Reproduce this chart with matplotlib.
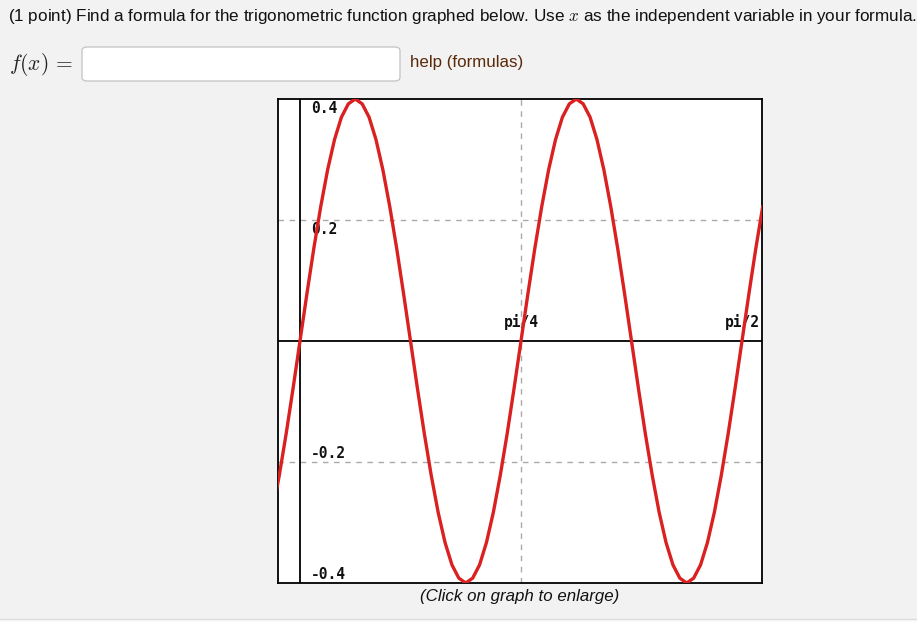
import numpy as np
import matplotlib.pyplot as plt
from matplotlib.patches import FancyBboxPatch, Rectangle

plt.rcParams['font.family'] = ['Liberation Sans', 'DejaVu Sans']
plt.rcParams['mathtext.fontset'] = 'cm'

# Curve samples, one every pi/128 along x
x_step = np.pi / 128
k_start = -4
y_vals = [
    -0.283, -0.222, -0.153, -0.078,
    0.0, 0.078, 0.153, 0.222, 0.283, 0.333, 0.370, 0.392,
    0.4, 0.392, 0.370, 0.333, 0.283, 0.222, 0.153, 0.078,
    0.0, -0.078, -0.153, -0.222, -0.283, -0.333, -0.370, -0.392,
    -0.4, -0.392, -0.370, -0.333, -0.283, -0.222, -0.153, -0.078,
    0.0, 0.078, 0.153, 0.222, 0.283, 0.333, 0.370, 0.392,
    0.4, 0.392, 0.370, 0.333, 0.283, 0.222, 0.153, 0.078,
    0.0, -0.078, -0.153, -0.222, -0.283, -0.333, -0.370, -0.392,
    -0.4, -0.392, -0.370, -0.333, -0.283, -0.222, -0.153, -0.078,
    0.0, 0.078, 0.153, 0.222,
]
x_vals = (np.arange(len(y_vals)) + k_start) * x_step

# axis labels drawn inside the graph
ytick_vals = [0.4, 0.2, -0.2, -0.4]
ytick_labels = ['0.4', '0.2', '-0.2', '-0.4']
xtick_vals = [np.pi / 4, np.pi / 2]
xtick_labels = ['pi/4', 'pi/2']
grid_y = [0.2, -0.2]
grid_x = [np.pi / 4]

W, H = 917, 622
bg = '#f2f2f2'
fig = plt.figure(figsize=(W / 100, H / 100), dpi=100, facecolor=bg)

# page text
fig.text(8 / W, 1 - 17 / H,
         '(1 point) Find a formula for the trigonometric function graphed below. '
         'Use $x$ as the independent variable in your formula.',
         fontsize=12.3, va='center', ha='left', color='#111111')
fig.text(9 / W, 1 - 65 / H, '$f(x)\\,=$', fontsize=15.5, va='center', ha='left',
         color='#222222')
box = FancyBboxPatch((82 / W, 1 - 81 / H), 318 / W, 34 / H,
                     boxstyle='round,pad=0,rounding_size=0.006',
                     transform=fig.transFigure, facecolor='white',
                     edgecolor='#c8c8c8', linewidth=1)
fig.patches.append(box)
fig.text(410 / W, 1 - 63 / H, 'help (formulas)', fontsize=12.2, va='center',
         ha='left', color='#5a2a0a')
fig.text(520 / W, 1 - 597 / H, '(Click on graph to enlarge)', fontsize=12.2,
         style='italic', va='center', ha='center', color='#111111')
fig.patches.append(Rectangle((0, 0), 1, 3 / H, transform=fig.transFigure,
                             facecolor='#fbfbfb', edgecolor='none'))
fig.lines.append(plt.Line2D([0, 1], [3 / H, 3 / H], transform=fig.transFigure,
                            color='#dddddd', lw=1))

# graph
ax = fig.add_axes([278 / W, (H - 583) / H, 484 / W, 484 / H])
ax.set_facecolor('white')
x_left = -22 / 221 * np.pi / 4
x_right = 462 / 221 * np.pi / 4
ax.set_xlim(x_left, x_right)
ax.set_ylim(-0.4, 0.4)
ax.set_xticks([])
ax.set_yticks([])
for s in ax.spines.values():
    s.set_color('black')
    s.set_linewidth(1.3)

for gy in grid_y:
    ax.axhline(gy, color='#aaaaaa', lw=1, ls=(0, (4, 4)), zorder=1)
for gx in grid_x:
    ax.axvline(gx, color='#aaaaaa', lw=1, ls=(0, (4, 4)), zorder=1)
ax.axhline(0, color='black', lw=1.3, zorder=2)
ax.axvline(0, color='black', lw=1.3, zorder=2)

ax.plot(x_vals, y_vals, color='#da2020', lw=2.4, zorder=4, clip_on=True)

mono = dict(family='DejaVu Sans Mono', fontweight='bold', fontsize=10.5,
            color='#111111', zorder=3)
for v, lab in zip(ytick_vals, ytick_labels):
    dy = -6.5 if v > 0 else 6
    ax.annotate(lab, (0, v), xytext=(8, dy), textcoords='offset points',
                ha='left', va='center', **mono)
for v, lab in zip(xtick_vals, xtick_labels):
    ax.annotate(lab, (v, 0), xytext=(0, 14), textcoords='offset points',
                ha='center', va='center', **mono)

fig.savefig('out.png', dpi=100, facecolor=bg)
